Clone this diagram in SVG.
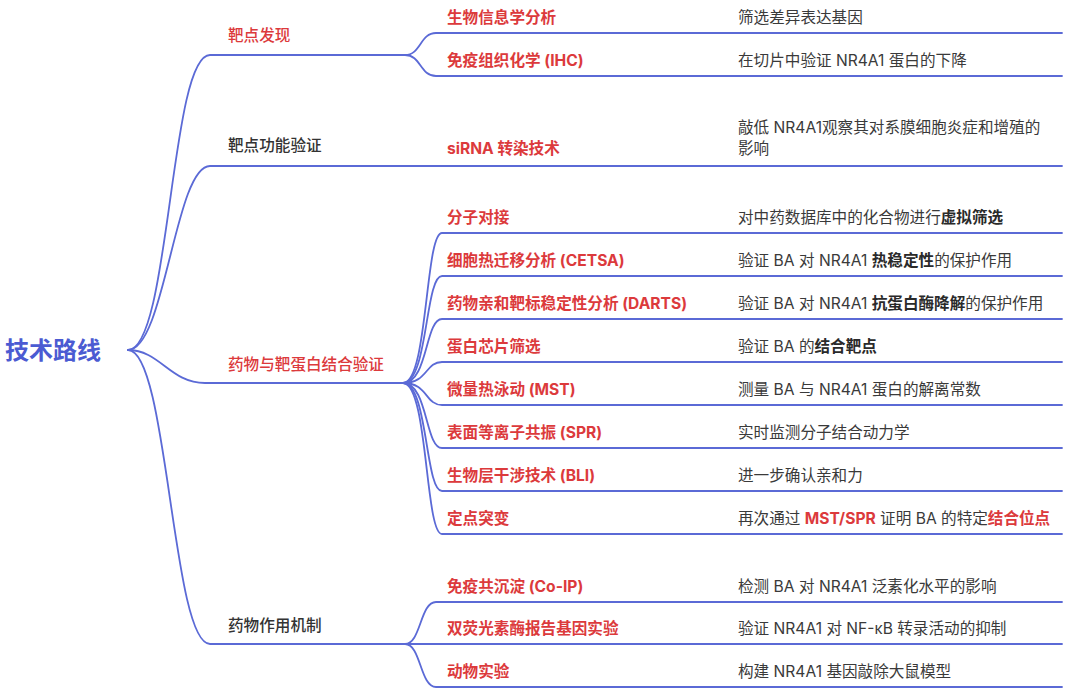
<svg xmlns="http://www.w3.org/2000/svg" width="1080" height="698" viewBox="0 0 1080 698">
<style>
text{font-family:Inter,"Noto Sans CJK SC",sans-serif;font-size:15.6px}
.root{font-size:24px;font-weight:700;fill:#4b5bd2}
.br{font-weight:500}
.red{fill:#dc3a3c}
.dark{fill:#333}
.leaf{font-weight:700;fill:#dc3a3c}
.desc{fill:#3a3a3a}
.b{font-weight:700;fill:#2a2a2a}
.rb{font-weight:700;fill:#dc3a3c}
.ln{fill:none;stroke:#5b6ad6;stroke-width:1.8;stroke-linecap:round}
</style>
<rect width="1080" height="698" fill="#fff"/>
<g id="connectors">
<path class="ln" d="M128,350 C170,350 170,55 210,55 L405,55"/>
<path class="ln" d="M128,350 C165,350 175,166 210,166 L1062,166"/>
<path class="ln" d="M128,350 C160,350 170,383 205,383 L403,383"/>
<path class="ln" d="M128,350 C168,350 172,644 210,644 L405,644"/>
<path class="ln" d="M405,55 C421,55 420,33 436,33 L1062,33"/>
<path class="ln" d="M405,55 C421,55 420,76 436,76 L1062,76"/>
<path class="ln" d="M403,383 C428,383 425,233 442,233 L1062,233"/>
<path class="ln" d="M403,383 C428,383 425,276 442,276 L1062,276"/>
<path class="ln" d="M403,383 C428,383 425,319 442,319 L1062,319"/>
<path class="ln" d="M403,383 C428,383 425,362 442,362 L1062,362"/>
<path class="ln" d="M403,383 C428,383 425,405 442,405 L1062,405"/>
<path class="ln" d="M403,383 C428,383 425,448 442,448 L1062,448"/>
<path class="ln" d="M403,383 C428,383 425,491 442,491 L1062,491"/>
<path class="ln" d="M403,383 C428,383 425,534 442,534 L1062,534"/>
<path class="ln" d="M405,644 C421,644 420,602 436,602 L1062,602"/>
<path class="ln" d="M405,644 L1062,644"/>
<path class="ln" d="M405,644 C421,644 420,687 436,687 L1062,687"/>
</g>
<g id="root"><text class="root" x="5" y="358.5">技术路线</text></g>
<g id="b1"><text class="br red" x="228" y="40.5">靶点发现</text></g>
<g id="b2"><text class="br dark" x="228" y="151">靶点功能验证</text></g>
<g id="b3"><text class="br red" x="228" y="370">药物与靶蛋白结合验证</text></g>
<g id="b4"><text class="br dark" x="228" y="631">药物作用机制</text></g>
<g id="l1"><text class="leaf" x="447" y="22.5">生物信息学分析</text><text class="desc" x="738" y="22.5">筛选差异表达基因</text></g>
<g id="l2"><text class="leaf" x="447" y="65.5">免疫组织化学 (IHC)</text><text class="desc" x="738" y="65.5">在切片中验证 NR4A1 蛋白的下降</text></g>
<g id="l3"><text class="leaf" x="447" y="154">siRNA 转染技术</text><text class="desc" x="738" y="133">敲低 NR4A1观察其对系膜细胞炎症和增殖的</text><text class="desc" x="738" y="154">影响</text></g>
<g id="l4"><text class="leaf" x="447" y="222.5">分子对接</text><text class="desc" x="738" y="222.5">对中药数据库中的化合物进行<tspan class="b">虚拟筛选</tspan></text></g>
<g id="l5"><text class="leaf" x="447" y="265.5">细胞热迁移分析 (CETSA)</text><text class="desc" x="738" y="265.5">验证 BA 对 NR4A1 <tspan class="b">热稳定性</tspan>的保护作用</text></g>
<g id="l6"><text class="leaf" x="447" y="308.5">药物亲和靶标稳定性分析 (DARTS)</text><text class="desc" x="738" y="308.5">验证 BA 对 NR4A1 <tspan class="b">抗蛋白酶降解</tspan>的保护作用</text></g>
<g id="l7"><text class="leaf" x="447" y="351.5">蛋白芯片筛选</text><text class="desc" x="738" y="351.5">验证 BA 的<tspan class="b">结合靶点</tspan></text></g>
<g id="l8"><text class="leaf" x="447" y="394.5">微量热泳动 (MST)</text><text class="desc" x="738" y="394.5">测量 BA 与 NR4A1 蛋白的解离常数</text></g>
<g id="l9"><text class="leaf" x="447" y="437.5">表面等离子共振 (SPR)</text><text class="desc" x="738" y="437.5">实时监测分子结合动力学</text></g>
<g id="l10"><text class="leaf" x="447" y="480.5">生物层干涉技术 (BLI)</text><text class="desc" x="738" y="480.5">进一步确认亲和力</text></g>
<g id="l11"><text class="leaf" x="447" y="523.5">定点突变</text><text class="desc" x="738" y="523.5">再次通过 <tspan class="rb">MST/SPR</tspan> 证明 BA 的特定<tspan class="rb">结合位点</tspan></text></g>
<g id="l12"><text class="leaf" x="447" y="591.5">免疫共沉淀 (Co-IP)</text><text class="desc" x="738" y="591.5">检测 BA 对 NR4A1 泛素化水平的影响</text></g>
<g id="l13"><text class="leaf" x="447" y="633.5">双荧光素酶报告基因实验</text><text class="desc" x="738" y="633.5">验证 NR4A1 对 NF-κB 转录活动的抑制</text></g>
<g id="l14"><text class="leaf" x="447" y="676.5">动物实验</text><text class="desc" x="738" y="676.5">构建 NR4A1 基因敲除大鼠模型</text></g>
</svg>
